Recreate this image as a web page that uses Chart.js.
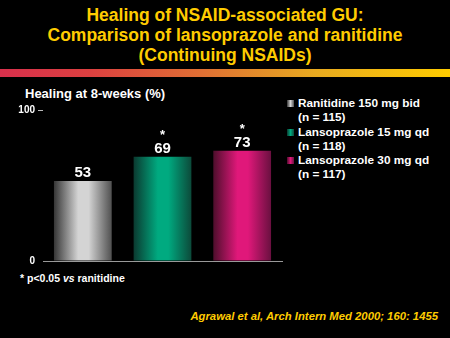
<!DOCTYPE html>
<html>
<head>
<meta charset="utf-8">
<script src="https://cdn.jsdelivr.net/npm/chart.js@4"></script>
<style>
  html, body { margin: 0; padding: 0; background: #000; }
  body { width: 450px; height: 338px; position: relative; overflow: hidden;
         font-family: 'Liberation Sans', Arial, sans-serif; }
  #title { position: absolute; left: 0; top: 5px; width: 450px; text-align: center;
           color: #ffcc00; font-weight: bold; font-size: 17.5px; line-height: 20px; }
  #stripe { position: absolute; left: 0; top: 69px; width: 450px; height: 8px;
            background: linear-gradient(to right, #d8304c 0%, #dc4040 20%, #e07034 45%, #e8aa20 70%, #ffcc00 100%); }
  #ytitle { position: absolute; left: 25px; top: 86px; color: #fff; font-weight: bold; font-size: 13px; }
  #legend { position: absolute; left: 286px; top: 96px; color: #fff; font-weight: bold; font-size: 11.8px; line-height: 14.3px; }
  #legend .item { position: relative; padding-left: 12px; margin-bottom: 0; }
  #legend .sw { position: absolute; left: 1px; top: 4px; width: 7px; height: 7px; }
  #note { position: absolute; left: 20px; top: 272px; color: #fff; font-size: 10.5px; font-weight: bold; }
  #cite { position: absolute; right: 12px; top: 310px; color: #ffcc00; font-size: 11.3px;
          font-weight: bold; font-style: italic; }
  #wrap { position: absolute; left: 0; top: 0; width: 450px; height: 338px; }
</style>
</head>
<body>
<div id="title">Healing of NSAID-associated GU:<br>Comparison of lansoprazole and ranitidine<br>(Continuing NSAIDs)</div>
<div id="stripe"></div>
<div id="ytitle">Healing at 8-weeks (%)</div>
<div id="legend"></div>
<div id="note">* p&lt;0.05 <i>vs</i> ranitidine</div>
<div id="cite">Agrawal et al, Arch Intern Med 2000; 160: 1455</div>
<div id="wrap"><canvas id="chart"></canvas></div>
<script>
/* ---------- Data ---------- */
const groups      = ['Ranitidine 150 mg bid', 'Lansoprazole 15 mg qd', 'Lansoprazole 30 mg qd'];
const groupSizes  = ['(n = 115)', '(n = 118)', '(n = 117)'];
const healing     = [53, 69, 73];
const significant = [false, true, true];
const yTicks      = [0, 100];

// edge / centre shades for the cylinder look
const barEdge   = ['#363636', '#0b3a30', '#4e0e2c'];
const barMid    = ['#d4d4d4', '#00aa80', '#e0187a'];
const barEdge2  = ['#505050', '#0c4a3a', '#6a1040'];

/* ---------- Legend ---------- */
const legend = document.getElementById('legend');
groups.forEach((g, i) => {
  const d = document.createElement('div');
  d.className = 'item';
  d.innerHTML = '<span class="sw" style="background:linear-gradient(to right,' + barEdge[i] + ',' + barMid[i] + ',' + barEdge2[i] + ')"></span>' +
    g + '<br>' + groupSizes[i];
  legend.appendChild(d);
});

/* ---------- Chart ---------- */
const barPct = 0.725;

function barFill(ctx) {
  const chart = ctx.chart;
  const i = ctx.dataIndex;
  const xs = chart.scales.x;
  if (!xs || i === undefined || !chart.chartArea) return barMid[i] || '#888';
  const cx = xs.getPixelForValue(i);
  const w = (chart.chartArea.width / groups.length) * barPct;
  const g = chart.ctx.createLinearGradient(cx - w / 2, 0, cx + w / 2, 0);
  g.addColorStop(0, barEdge[i]);
  g.addColorStop(0.42, barMid[i]);
  g.addColorStop(0.6, barMid[i]);
  g.addColorStop(1, barEdge2[i]);
  return g;
}

const valueLabels = {
  id: 'valueLabels',
  afterDatasetsDraw(chart) {
    const c = chart.ctx;
    const meta = chart.getDatasetMeta(0);
    c.save();
    c.fillStyle = '#fff';
    c.textAlign = 'center';
    c.textBaseline = 'alphabetic';
    meta.data.forEach((bar, i) => {
      c.font = 'bold 15px "Liberation Sans", Arial, sans-serif';
      c.fillText(String(healing[i]), bar.x, bar.y - 4);
      if (significant[i]) {
        c.font = 'bold 13px "Liberation Sans", Arial, sans-serif';
        c.fillText('*', bar.x, bar.y - 18);
      }
    });
    c.restore();
  }
};

Chart.defaults.font.family = "'Liberation Sans', Arial, sans-serif";

new Chart(document.getElementById('chart'), {
  type: 'bar',
  data: {
    labels: groups,
    datasets: [{
      data: healing,
      backgroundColor: barFill,
      borderWidth: 0,
      categoryPercentage: 1,
      barPercentage: barPct
    }]
  },
  options: {
    responsive: true,
    maintainAspectRatio: false,
    animation: false,
    layout: { padding: { left: 0, right: 168, top: 110, bottom: 69 } },
    plugins: { legend: { display: false }, tooltip: { enabled: false } },
    scales: {
      x: {
        grid: { display: false },
        ticks: { display: false },
        border: { color: '#999', width: 1 }
      },
      y: {
        min: 0,
        max: 100,
        afterBuildTicks: (s) => { s.ticks = yTicks.map(v => ({ value: v })); },
        grid: {
          drawOnChartArea: false,
          drawTicks: true,
          tickLength: 5,
          tickColor: (ctx) => ctx.tick && ctx.tick.value === 100 ? '#bbb' : 'rgba(0,0,0,0)'
        },
        border: { display: false },
        ticks: {
          color: '#fff',
          padding: 3,
          font: { size: 10, weight: 'bold' },
          callback: (v) => String(v)
        },
        afterFit: (s) => { s.width = 43; }
      }
    }
  },
  plugins: [valueLabels]
});
</script>
</body>
</html>
